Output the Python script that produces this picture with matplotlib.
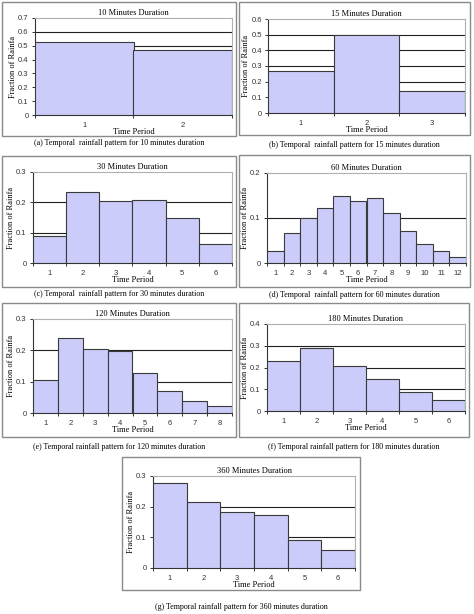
import matplotlib
matplotlib.use('Agg')
import matplotlib.pyplot as plt
import numpy as np
from matplotlib.patches import Rectangle

plt.rcParams['font.family'] = ['Liberation Serif', 'DejaVu Serif']

# data: fraction of rainfall per time period
rain_10 = [0.53, 0.47]
rain_15 = [0.268, 0.50, 0.14]
rain_30 = [0.089, 0.234, 0.205, 0.207, 0.147, 0.062]
rain_60 = [0.026, 0.066, 0.100, 0.122, 0.148, 0.137, 0.144, 0.111, 0.072, 0.043, 0.026, 0.014]
rain_120 = [0.104, 0.240, 0.204, 0.199, 0.129, 0.069, 0.037, 0.021]
rain_180 = [0.231, 0.289, 0.206, 0.145, 0.086, 0.049]
rain_360 = [0.277, 0.214, 0.184, 0.174, 0.090, 0.059]

titles = ['10 Minutes Duration', '15 Minutes Duration', '30 Minutes Duration',
          '60 Minutes Duration', '120 Minutes Duration', '180 Minutes Duration',
          '360 Minutes Duration']
captions = ['(a) Temporal  rainfall pattern for 10 minutes duration',
            '(b) Temporal  rainfall pattern for 15 minutes duration',
            '(c) Temporal  rainfall pattern for 30 minutes duration',
            '(d) Temporal  rainfall pattern for 60 minutes duration',
            '(e) Temporal rainfall pattern for 120 minutes duration',
            '(f) Temporal rainfall pattern for 180 minutes duration',
            '(g) Temporal rainfall pattern for 360 minutes duration']
ymax = [0.7, 0.6, 0.3, 0.2, 0.3, 0.4, 0.3]

W, H = 474, 614
fig = plt.figure(figsize=(W / 100, H / 100), dpi=100)

# layout in pixels: plot area (left, top, right, bottom), box (left, top, right, bottom), caption y
layout = [
    ((35, 18, 232, 115), (2, 2, 236, 136), 143),
    ((268, 19, 465, 113), (239, 2, 470, 135), 145),
    ((33, 172, 232, 263), (2, 156, 236, 287), 294),
    ((267, 173, 466, 263), (239, 155, 470, 287), 295),
    ((33, 319, 232, 413), (2, 303, 236, 437), 447),
    ((267, 324, 465, 411), (239, 303, 469, 437), 447),
    ((153, 476, 355, 568), (122, 457, 360, 590), 607),
]

series = [rain_10, rain_15, rain_30, rain_60, rain_120, rain_180, rain_360]


def to_fig(l, t, r, b):
    return [l / W, 1 - b / H, (r - l) / W, (b - t) / H]


for vals, title, cap, ym, (plot, box, cy) in zip(series, titles, captions, ymax, layout):
    # outer chart box
    bl, bt, br, bb = box
    fig.patches.append(Rectangle((bl / W, 1 - bb / H), (br - bl) / W, (bb - bt) / H,
                                 transform=fig.transFigure, fill=False,
                                 edgecolor='#8a8a8a', linewidth=1.0))
    fig.text((bl + br) / 2 / W, 1 - cy / H, cap, ha='center', va='center', fontsize=5.8)

    ax = fig.add_axes(to_fig(*plot))
    n = len(vals)
    x = np.arange(1, n + 1)
    ax.bar(x, vals, width=1.0, color='#ccccfa', edgecolor='#3a3a3a', linewidth=0.8, zorder=3)
    yt = np.round(np.arange(0, ym + 0.001, 0.1), 1)
    for y in yt[1:-1]:
        ax.axhline(y, color='#202020', linewidth=0.8, zorder=1)
    ax.set_xlim(0.5, n + 0.5)
    ax.set_ylim(0, ym)
    ax.set_yticks(yt)
    ax.set_yticklabels(['0'] + [f'{v:.1f}' for v in yt[1:]], family='Liberation Sans',
                       fontsize=5.5, color='#333333')
    ax.set_xticks(x)
    ax.set_xticklabels([str(i) for i in x], family='Liberation Sans', fontsize=5.5, color='#333333')
    ax.tick_params(axis='x', length=0, pad=5)
    ax.set_xticks(np.arange(0.5, n + 1), minor=True)
    ax.tick_params(axis='x', which='minor', length=2.5, width=0.7, color='#333333')
    ax.tick_params(axis='y', length=2.5, width=0.7, color='#333333', pad=2)
    for s in ['left', 'bottom']:
        ax.spines[s].set_color('#333333')
        ax.spines[s].set_linewidth(0.8)
    for s in ['top', 'right']:
        ax.spines[s].set_color('#b0b0b0')
        ax.spines[s].set_linewidth(0.8)
    ax.set_xlabel('Time Period', fontsize=6, labelpad=-1)
    ax.set_ylabel('Fraction of Rainfa', fontsize=6, labelpad=1)
    ax.set_title(title, fontsize=6, pad=2)

fig.savefig('out.png', dpi=100)
